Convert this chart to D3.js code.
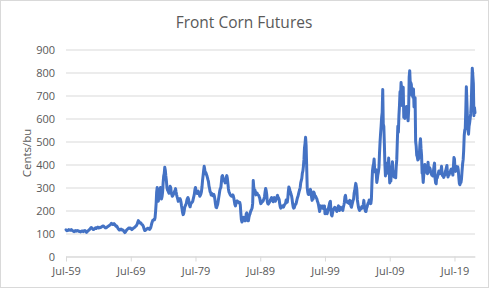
<!DOCTYPE html>
<html>
<head>
<meta charset="utf-8">
<script src="https://cdn.jsdelivr.net/npm/d3@7"></script>
<style>
  body { margin: 0; background: #fff; }
  svg { display: block; font-family: "Open Sans", sans-serif; }
</style>
</head>
<body>
<div id="chart"></div>
<script>
// monthly front corn futures, cents/bu, starting Jul 1959
var p1959 = [116, 114, 112, 113, 115, 117,
  116, 115, 114, 116, 117, 115, 113, 111, 109, 108, 110, 112,
  113, 110, 112, 113, 112, 110, 109, 110, 108, 107, 109, 110,
  111, 110, 108, 110, 112, 113, 110, 107, 105, 107, 110, 112,
  114, 116, 119, 121, 124, 126, 123, 121, 118, 117, 119, 121,
  123, 125, 122, 124, 126, 128, 126, 124, 125, 127, 126, 128,
  129, 131, 132, 133, 131, 129, 127, 125, 124, 126, 128, 130,
  131, 133, 134, 136, 138, 141, 144, 143, 141, 139, 141, 143,
  140, 137, 133, 131, 132, 128, 124, 120, 117, 115, 116, 118,
  119, 117, 115, 116, 114, 111, 107, 104, 106, 110, 114, 117,
  119, 121, 123, 124, 122, 124, 122, 119, 117, 119, 121, 123];
var p1970 = [125, 127, 129, 131, 133, 137, 141, 149, 156, 153, 150, 146,
  147, 145, 141, 139, 137, 133, 126, 118, 113, 114, 116, 118,
  120, 122, 123, 121, 119, 118, 121, 126, 135, 145, 152, 158,
  158, 162, 160, 168, 195, 230, 280, 300, 255, 240, 255, 275,
  290, 300, 270, 250, 260, 280, 320, 350, 360, 388, 375, 350,
  330, 300, 290, 285, 280, 275, 290, 305, 300, 280, 270, 262,
  265, 270, 275, 282, 288, 295, 280, 268, 258, 250, 240, 245,
  250, 252, 248, 238, 222, 208, 192, 182, 186, 198, 214, 220,
  225, 232, 245, 252, 256, 250, 236, 222, 216, 226, 232, 234,
  236, 242, 252, 262, 272, 292, 300, 286, 280, 274, 282, 284];
var p1980 = [276, 270, 262, 266, 272, 282, 302, 330, 352, 372, 392, 380,
  360, 366, 358, 352, 344, 334, 326, 306, 296, 282, 278, 268,
  274, 270, 264, 268, 270, 262, 248, 228, 214, 212, 220, 226,
  240, 256, 270, 286, 296, 300, 322, 348, 352, 340, 334, 330,
  326, 320, 332, 346, 352, 340, 318, 294, 280, 276, 270, 266,
  264, 262, 266, 268, 264, 254, 240, 226, 220, 230, 240, 242,
  240, 238, 235, 232, 235, 225, 190, 160, 150, 155, 165, 170,
  160, 158, 155, 162, 185, 190, 170, 155, 155, 170, 180, 185,
  195, 200, 205, 212, 232, 330, 300, 284, 290, 280, 268, 272,
  276, 270, 268, 266, 260, 254, 240, 230, 232, 240, 242, 240];
var p1990 = [246, 252, 262, 282, 296, 286, 270, 240, 230, 228, 232, 236,
  240, 246, 252, 256, 250, 244, 238, 250, 256, 246, 240, 246,
  250, 260, 266, 258, 254, 248, 230, 216, 210, 212, 218, 220,
  218, 215, 220, 226, 228, 232, 246, 240, 236, 252, 282, 302,
  296, 286, 280, 270, 264, 250, 230, 216, 210, 212, 220, 226,
  228, 236, 246, 256, 262, 272, 282, 290, 300, 320, 330, 340,
  362, 372, 392, 422, 472, 492, 518, 482, 392, 300, 280, 270,
  270, 276, 286, 292, 280, 260, 244, 262, 250, 280, 276, 266,
  264, 260, 254, 250, 240, 234, 224, 210, 196, 210, 220, 214,
  214, 210, 220, 214, 208, 220, 186, 204, 198, 190, 186, 196];
var p2000 = [206, 216, 226, 236, 240, 200, 180, 176, 190, 200, 206, 210,
  214, 210, 204, 200, 196, 204, 214, 220, 210, 200, 206, 214,
  210, 208, 204, 200, 214, 224, 236, 260, 266, 246, 240, 236,
  234, 238, 232, 230, 244, 240, 220, 214, 224, 234, 244, 250,
  276, 286, 302, 318, 306, 290, 246, 230, 214, 206, 200, 206,
  206, 210, 216, 210, 216, 226, 244, 220, 206, 196, 196, 210,
  216, 226, 232, 236, 246, 232, 240, 230, 250, 320, 372, 392,
  402, 424, 380, 368, 378, 362, 322, 336, 356, 368, 388, 448,
  496, 536, 566, 606, 626, 726, 576, 566, 490, 400, 350, 406,
  380, 362, 392, 378, 428, 370, 320, 330, 328, 372, 390, 412];
var p2010 = [366, 370, 346, 360, 360, 342, 390, 420, 498, 566, 540, 612,
  656, 716, 690, 756, 730, 656, 680, 736, 604, 648, 600, 644,
  644, 652, 642, 620, 590, 636, 780, 808, 752, 756, 748, 700,
  730, 692, 728, 650, 678, 690, 500, 480, 440, 434, 420, 422,
  430, 450, 490, 512, 470, 440, 362, 360, 322, 354, 370, 400,
  392, 386, 380, 364, 360, 410, 376, 370, 386, 380, 364, 360,
  354, 360, 350, 372, 392, 406, 340, 320, 316, 346, 342, 352,
  362, 372, 364, 360, 370, 372, 392, 360, 350, 350, 344, 350,
  354, 370, 376, 386, 396, 358, 346, 362, 354, 366, 364, 376,
  380, 374, 364, 354, 390, 430, 424, 378, 370, 392, 374, 386];
var p2020 = [390, 376, 344, 318, 312, 320, 322, 338, 372, 402, 420, 460,
  526, 550, 556, 640, 738, 672, 600, 552, 532, 566, 580, 600,
  620, 662, 742, 818, 786, 752, 612, 648, 625];

var prices = p1959.concat(p1970, p1980, p1990, p2000, p2010, p2020);

var tickLabels = ['Jul-59', 'Jul-69', 'Jul-79', 'Jul-89', 'Jul-99', 'Jul-09', 'Jul-19'];
var tickYears = [1959, 1969, 1979, 1989, 1999, 2009, 2019];

var width = 489,
    height = 288;

var svg = d3.select('#chart').append('svg')
  .attr('width', width)
  .attr('height', height);

svg.append('rect')
  .attr('x', 0.5).attr('y', 0.5)
  .attr('width', width - 1).attr('height', height - 1)
  .attr('fill', '#fff')
  .attr('stroke', '#d9d9d9');

var data = prices.map(function(v, i) {
  return { date: new Date(1959, 6 + i, 1), value: v };
});

var xScale = d3.scaleTime()
  .domain([data[0].date, data[data.length - 1].date])
  .range([66, 475]);

var yScale = d3.scaleLinear()
  .domain([0, 900])
  .range([256.5, 49.5]);

// gridlines + y labels
var yAxis = svg.append('g')
  .attr('transform', 'translate(66,0)')
  .call(d3.axisLeft(yScale).tickValues(d3.range(0, 901, 100)).tickSize(-409).tickPadding(11));
yAxis.select('.domain').remove();
yAxis.selectAll('line').attr('stroke', '#d9d9d9');
yAxis.selectAll('text')
  .attr('fill', '#595959')
  .style('font-size', '11px')
  .style('font-family', '"Open Sans", sans-serif');

// x axis
var xAxis = svg.append('g')
  .attr('transform', 'translate(0,256.5)')
  .call(d3.axisBottom(xScale)
    .tickValues(tickYears.map(function(y) { return new Date(y, 6, 1); }))
    .tickFormat(function(d, i) { return tickLabels[i]; })
    .tickSize(5)
    .tickSizeOuter(0)
    .tickPadding(6));
xAxis.select('.domain').attr('stroke', '#d9d9d9');
xAxis.selectAll('line').attr('stroke', '#d9d9d9');
xAxis.selectAll('text')
  .attr('fill', '#595959')
  .style('font-size', '11px')
  .style('font-family', '"Open Sans", sans-serif');

var line = d3.line()
  .x(function(d) { return xScale(d.date); })
  .y(function(d) { return yScale(d.value); });

svg.append('path')
  .datum(data)
  .attr('d', line)
  .attr('fill', 'none')
  .attr('stroke', '#4472c4')
  .attr('stroke-width', 3)
  .attr('stroke-linejoin', 'round')
  .attr('stroke-linecap', 'round');

svg.append('text')
  .attr('x', 244)
  .attr('y', 28)
  .attr('text-anchor', 'middle')
  .attr('fill', '#595959')
  .style('font-size', '15.5px')
  .text('Front Corn Futures');

svg.append('text')
  .attr('transform', 'translate(31,153) rotate(-90)')
  .attr('text-anchor', 'middle')
  .attr('fill', '#595959')
  .style('font-size', '11.5px')
  .text('Cents/bu');
</script>
</body>
</html>
